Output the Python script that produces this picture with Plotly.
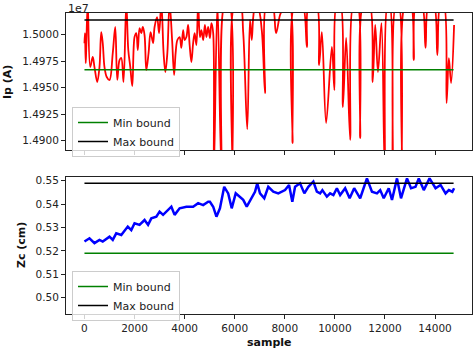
import plotly.graph_objects as go

# ---- data ----
ip_sample = [0, 20, 50, 70, 130, 230, 330, 400, 510, 600, 670, 730, 800, 890, 1000, 1130, 1230, 1310, 1400, 1470,
             1560, 1670, 1750, 1830, 1910, 2000, 2070, 2130, 2200, 2270, 2330, 2400, 2470, 2560, 2640, 2740, 2800,
             2900, 2980, 3070, 3160, 3230, 3310, 3400, 3500, 3580, 3640, 3710, 3800, 3870, 3940, 4000, 4070, 4140,
             4200, 4270, 4340, 4400, 4470, 4540, 4610, 4670, 4740, 4810, 4870, 4940, 5010, 5070, 5140, 5170, 5310,
             5470, 5610, 5770, 5910, 6010, 6210, 6340, 6500, 6610, 6680, 6740, 6810, 6930, 7080, 7210, 7280, 7490,
             7650, 7810, 7940, 8170, 8310, 8410, 8690, 8880, 8970, 9250, 9370, 9480, 9650, 9880, 9980, 10080, 10210,
             10320, 10450, 10610, 10750, 10890, 11010, 11150, 11370, 11510, 11610, 11720, 11860, 11990, 12110, 12180,
             12310, 12440, 12540, 12680, 12820, 13020, 13150, 13250, 13460, 13620, 13750, 13940, 14090, 14220, 14340,
             14460, 14550, 14640, 14760]
ip_value = [14992000, 15001600, 14973300, 14985600, 15030000, 14969500, 14979000, 14969500, 14955400, 14969500,
            15002500, 14992200, 14969500, 14960100, 14957300, 14982700, 15007300, 14957300, 14976100, 14978000,
            14955400, 15030000, 14985600, 14969500, 14951600, 14997800, 15001600, 14985600, 15006300, 15001600,
            15007300, 14999700, 14966700, 14982700, 15002500, 14992200, 15007300, 15016700, 15001600, 15030000,
            14982700, 14964800, 14982700, 15030000, 14995000, 14962000, 14982700, 14995000, 14997800, 14987500,
            15004400, 14995000, 14997800, 15009200, 14990300, 14974200, 14992200, 15001600, 14990300, 15030000,
            14997800, 15004400, 14995000, 15009200, 14997800, 15007300, 14996900, 15011000, 15001600, 14870000,
            15030000, 14870000, 15030000, 15030000, 14870000, 15030000, 15030000, 15001600, 14910800, 15013900,
            14995000, 15016700, 15025000, 15025000, 15004400, 14945000, 15030000, 15030000, 15001600, 15018600,
            15025000, 15030000, 14897800, 15030000, 15030000, 14988400, 15030000, 15030000, 14971400, 15002500,
            14916700, 14988400, 14947800, 15030000, 15030000, 14931800, 14996900, 14900700, 15030000, 15030000,
            14902500, 15030000, 15030000, 14955400, 15009200, 14964800, 15011000, 14870000, 15030000, 15030000,
            14870000, 15030000, 15030000, 14870000, 15030000, 15030000, 14976100, 15030000, 15030000, 14987500,
            15030000, 15030000, 14980800, 15030000, 15030000, 14935600, 14978000, 14954400, 15009200]

zc_sample = [0, 200, 400, 600, 730, 1000, 1130, 1270, 1470, 1730, 1870, 2000, 2200, 2400, 2540, 2670, 2870, 3000,
             3140, 3340, 3470, 3600, 3800, 4070, 4340, 4540, 4740, 4940, 5010, 5140, 5270, 5410, 5580, 5740, 5880,
             6040, 6210, 6340, 6480, 6680, 6810, 6900, 7010, 7180, 7340, 7540, 7740, 8010, 8170, 8300, 8410, 8610,
             8780, 8940, 9140, 9280, 9410, 9500, 9680, 9810, 9940, 10080, 10210, 10410, 10590, 10770, 11010, 11280,
             11480, 11680, 11810, 11950, 12150, 12280, 12480, 12640, 12880, 13040, 13220, 13350, 13550, 13780,
             14020, 14220, 14420, 14550, 14690, 14760]
zc_value = [0.5240, 0.5254, 0.5233, 0.5247, 0.5240, 0.5261, 0.5247, 0.5275, 0.5268, 0.5304, 0.5289, 0.5318,
            0.5311, 0.5332, 0.5311, 0.5339, 0.5346, 0.5368, 0.5354, 0.5375, 0.5389, 0.5354, 0.5382, 0.5389,
            0.5389, 0.5404, 0.5396, 0.5410, 0.5410, 0.5389, 0.5346, 0.5382, 0.5474, 0.5446, 0.5382, 0.5446,
            0.5432, 0.5418, 0.5389, 0.5432, 0.5453, 0.5489, 0.5446, 0.5425, 0.5474, 0.5453, 0.5446, 0.5460,
            0.5482, 0.5410, 0.5474, 0.5489, 0.5446, 0.5474, 0.5496, 0.5453, 0.5446, 0.5460, 0.5432, 0.5446,
            0.5439, 0.5468, 0.5439, 0.5468, 0.5425, 0.5468, 0.5425, 0.5510, 0.5453, 0.5446, 0.5460, 0.5425,
            0.5468, 0.5418, 0.5510, 0.5425, 0.5510, 0.5468, 0.5474, 0.5510, 0.5460, 0.5510, 0.5468, 0.5482,
            0.5446, 0.5460, 0.5453, 0.5468]

bound_x = [0, 14740]
ip_min_bound = 14966900
ip_max_bound = 15013900
zc_min_bound = 0.519
zc_max_bound = 0.5489

ip_ticks = [14900000, 14925000, 14950000, 14975000, 15000000]
ip_ticktext = ["1.4900", "1.4925", "1.4950", "1.4975", "1.5000"]
zc_ticks = [0.50, 0.51, 0.52, 0.53, 0.54, 0.55]
x_ticks = [0, 2000, 4000, 6000, 8000, 10000, 12000, 14000]
x_ticktext = ["0", "2000", "4000", "6000", "8000", "10000", "12000", "14000"]

FONT = "DejaVu Sans"
fig = go.Figure()

fig.add_trace(go.Scatter(x=ip_sample, y=ip_value, mode="lines",
                         line=dict(color="#ff0000", width=1.8, shape="spline", smoothing=1.0),
                         showlegend=False, xaxis="x", yaxis="y"))
fig.add_trace(go.Scatter(x=bound_x, y=[ip_min_bound] * 2, mode="lines", line=dict(color="#008000", width=1.5),
                         name="Min bound", xaxis="x", yaxis="y", legend="legend"))
fig.add_trace(go.Scatter(x=bound_x, y=[ip_max_bound] * 2, mode="lines", line=dict(color="#000000", width=1.5),
                         name="Max bound", xaxis="x", yaxis="y", legend="legend"))

fig.add_trace(go.Scatter(x=zc_sample, y=zc_value, mode="lines", line=dict(color="#0000ff", width=2.5),
                         showlegend=False, xaxis="x2", yaxis="y2"))
fig.add_trace(go.Scatter(x=bound_x, y=[zc_min_bound] * 2, mode="lines", line=dict(color="#008000", width=1.5),
                         name="Min bound", xaxis="x2", yaxis="y2", legend="legend2"))
fig.add_trace(go.Scatter(x=bound_x, y=[zc_max_bound] * 2, mode="lines", line=dict(color="#000000", width=1.5),
                         name="Max bound", xaxis="x2", yaxis="y2", legend="legend2"))

xdom = [66 / 474, 472 / 474]
axis_common = dict(showline=True, mirror=True, linecolor="#222", linewidth=1, ticks="outside", ticklen=4,
                   tickcolor="#222", showgrid=False, zeroline=False, automargin=False,
                   tickfont=dict(family=FONT, size=10.5, color="#222"))
xr = [-737, 15475]
legend_common = dict(bgcolor="rgba(255,255,255,0.8)", bordercolor="#cccccc", borderwidth=1,
                     font=dict(family=FONT, size=11, color="#222"), xanchor="left", yanchor="top",
                     itemwidth=30, tracegroupgap=0)

fig.update_layout(
    width=474, height=350, margin=dict(l=0, r=0, t=0, b=0),
    paper_bgcolor="white", plot_bgcolor="white",
    xaxis=dict(domain=xdom, range=xr, tickvals=x_ticks, showticklabels=False, anchor="y", **axis_common),
    yaxis=dict(domain=[1 - 150 / 350, 1 - 13 / 350], range=[14891200, 15020500], tickvals=ip_ticks,
               ticktext=ip_ticktext, anchor="x", **axis_common),
    xaxis2=dict(domain=xdom, range=xr, tickvals=x_ticks, ticktext=x_ticktext, anchor="y2", **axis_common),
    yaxis2=dict(domain=[1 - 314 / 350, 1 - 177 / 350], range=[0.4930, 0.5516], tickvals=zc_ticks,
                tickformat=".2f", anchor="x2", **axis_common),
    legend=dict(x=72 / 474, y=1 - 107 / 350, **legend_common),
    legend2=dict(x=72 / 474, y=1 - 271 / 350, **legend_common),
    annotations=[
        dict(text="1e7", x=66 / 474, y=1.0, xref="paper", yref="paper", xanchor="left", yanchor="top",
             showarrow=False, font=dict(family=FONT, size=11, color="#222")),
        dict(text="<b>Ip (A)</b>", x=7 / 474, y=1 - 82 / 350, xref="paper", yref="paper", textangle=-90,
             xanchor="center", yanchor="middle",
             showarrow=False, font=dict(family=FONT, size=11, color="#111")),
        dict(text="<b>Zc (cm)</b>", x=22 / 474, y=1 - 245 / 350, xref="paper", yref="paper", textangle=-90,
             xanchor="center", yanchor="middle",
             showarrow=False, font=dict(family=FONT, size=11, color="#111")),
        dict(text="<b>sample</b>", x=269 / 474, y=1 - 342 / 350, xref="paper", yref="paper",
             xanchor="center", yanchor="middle",
             showarrow=False, font=dict(family=FONT, size=11, color="#111")),
    ],
)

fig.write_html("out.html")
